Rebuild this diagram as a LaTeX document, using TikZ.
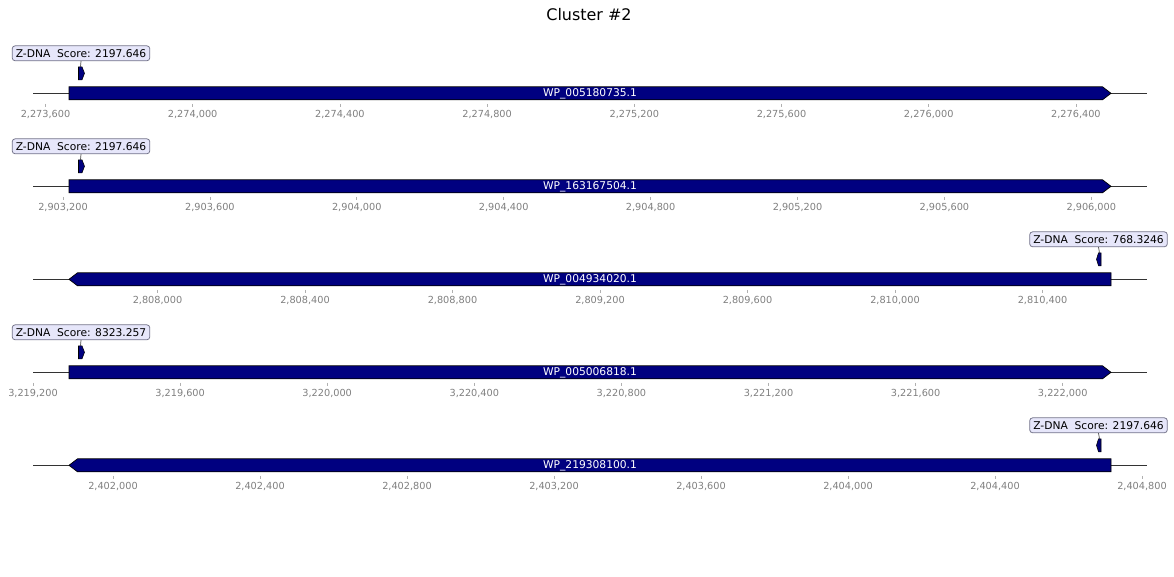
\documentclass[tikz,border=0pt]{standalone}
\usepackage{fontspec}
\setmainfont{DejaVu Sans}
\definecolor{genenavy}{HTML}{000080}
\definecolor{lav}{HTML}{E6E6FA}
\definecolor{boxedge}{HTML}{74748A}
\definecolor{ticklab}{HTML}{808080}
\definecolor{tickmark}{HTML}{B0B0B0}
\tikzset{
  backbone/.style={draw=black!80, line width=1.15pt},
  genebody/.style={draw=black, fill=genenavy, line width=0.5pt},
  genelab/.style={text=white, font=\fontsize{7.7}{8}\selectfont, inner sep=0pt},
  zlab/.style={draw=boxedge, fill=lav, rounded corners=2.2pt, line width=0.55pt, font=\fontsize{7.7}{8}\selectfont, inner xsep=2.6pt, inner ysep=0pt, minimum height=10.8pt},
  featshape/.style={draw=black, fill=genenavy, line width=0.4pt},
  conn/.style={draw=black!70, line width=0.5pt},
  tickmk/.style={draw=tickmark, line width=0.5pt},
  ticktxt/.style={text=ticklab, font=\fontsize{7}{8}\selectfont, inner sep=0pt},
}
\begin{document}
\begin{tikzpicture}[x=0.72pt, y=-0.72pt]
\useasboundingbox[fill=white] (0,-0.8) rectangle (1174,575.2);
\node[font=\fontsize{11.5}{13}\selectfont] (title) at (589,14) {Cluster \#2};

% ---------- Row 1 (forward) ----------
\draw[backbone] (33,92.5) -- (1147,92.5);
\draw[genebody] (69,86) -- (1102.5,86) -- (1111,92.5) -- (1102.5,99) -- (69,99) -- cycle;
\node[genelab] (g1) at (590,92.5) {WP\_005180735.1};
\draw[featshape] (78.5,66) -- (82,66) .. controls (83.5,69) .. (84.5,72.5) .. controls (83.5,76) .. (82,79) -- (78.5,79) -- cycle;
\coordinate (f1) at (80.5,66);
\node[zlab] (z1) at (81,52.5) {Z-DNA~~Score: 2197.646};
\draw[conn] (z1.south) -- (f1);
\foreach \t [count=\i from 0] in {{2,273,600},{2,274,000},{2,274,400},{2,274,800},{2,275,200},{2,275,600},{2,276,000},{2,276,400}} {
  \pgfmathsetmacro{\xx}{45.5+147.2*\i}
  \draw[tickmk] (\xx,103) -- (\xx,106);
  \node[ticktxt] (t1-\i) at (\xx,114) {\t};
}

% ---------- Row 2 (forward) ----------
\draw[backbone] (33,185.5) -- (1147,185.5);
\draw[genebody] (69,179) -- (1102.5,179) -- (1111,185.5) -- (1102.5,192) -- (69,192) -- cycle;
\node[genelab] (g2) at (590,185.5) {WP\_163167504.1};
\draw[featshape] (78.5,159) -- (82,159) .. controls (83.5,162) .. (84.5,165.5) .. controls (83.5,169) .. (82,172) -- (78.5,172) -- cycle;
\coordinate (f2) at (80.5,159);
\node[zlab] (z2) at (81,145.5) {Z-DNA~~Score: 2197.646};
\draw[conn] (z2.south) -- (f2);
\foreach \t [count=\i from 0] in {{2,903,200},{2,903,600},{2,904,000},{2,904,400},{2,904,800},{2,905,200},{2,905,600},{2,906,000}} {
  \pgfmathsetmacro{\xx}{63+146.9*\i}
  \draw[tickmk] (\xx,196) -- (\xx,199);
  \node[ticktxt] (t2-\i) at (\xx,207) {\t};
}

% ---------- Row 3 (reverse) ----------
\draw[backbone] (33,278.5) -- (1147,278.5);
\draw[genebody] (1111,272) -- (77.5,272) -- (69,278.5) -- (77.5,285) -- (1111,285) -- cycle;
\node[genelab] (g3) at (590,278.5) {WP\_004934020.1};
\draw[featshape] (1101,252) -- (1098.5,252) .. controls (1097.3,255) .. (1096.5,258.5) .. controls (1097.3,262) .. (1098.5,265) -- (1101,265) -- cycle;
\coordinate (f3) at (1099.5,252);
\node[zlab] (z3) at (1098.5,238.5) {Z-DNA~~Score: 768.3246};
\draw[conn] (z3.south) -- (f3);
\foreach \t [count=\i from 0] in {{2,808,000},{2,808,400},{2,808,800},{2,809,200},{2,809,600},{2,810,000},{2,810,400}} {
  \pgfmathsetmacro{\xx}{157.5+147.5*\i}
  \draw[tickmk] (\xx,289) -- (\xx,292);
  \node[ticktxt] (t3-\i) at (\xx,300) {\t};
}

% ---------- Row 4 (forward) ----------
\draw[backbone] (33,371.5) -- (1147,371.5);
\draw[genebody] (69,365) -- (1102.5,365) -- (1111,371.5) -- (1102.5,378) -- (69,378) -- cycle;
\node[genelab] (g4) at (590,371.5) {WP\_005006818.1};
\draw[featshape] (78.5,345) -- (82,345) .. controls (83.5,348) .. (84.5,351.5) .. controls (83.5,355) .. (82,358) -- (78.5,358) -- cycle;
\coordinate (f4) at (80.5,345);
\node[zlab] (z4) at (81,331.5) {Z-DNA~~Score: 8323.257};
\draw[conn] (z4.south) -- (f4);
\foreach \t [count=\i from 0] in {{3,219,200},{3,219,600},{3,220,000},{3,220,400},{3,220,800},{3,221,200},{3,221,600},{3,222,000}} {
  \pgfmathsetmacro{\xx}{33+147.1*\i}
  \draw[tickmk] (\xx,382) -- (\xx,385);
  \node[ticktxt] (t4-\i) at (\xx,393) {\t};
}

% ---------- Row 5 (reverse) ----------
\draw[backbone] (33,464.5) -- (1147,464.5);
\draw[genebody] (1111,458) -- (77.5,458) -- (69,464.5) -- (77.5,471) -- (1111,471) -- cycle;
\node[genelab] (g5) at (590,464.5) {WP\_219308100.1};
\draw[featshape] (1101,438) -- (1098.5,438) .. controls (1097.3,441) .. (1096.5,444.5) .. controls (1097.3,448) .. (1098.5,451) -- (1101,451) -- cycle;
\coordinate (f5) at (1099.5,438);
\node[zlab] (z5) at (1098.5,424.5) {Z-DNA~~Score: 2197.646};
\draw[conn] (z5.south) -- (f5);
\foreach \t [count=\i from 0] in {{2,402,000},{2,402,400},{2,402,800},{2,403,200},{2,403,600},{2,404,000},{2,404,400},{2,404,800}} {
  \pgfmathsetmacro{\xx}{113+147.0*\i}
  \draw[tickmk] (\xx,475) -- (\xx,478);
  \node[ticktxt] (t5-\i) at (\xx,486) {\t};
}
\end{tikzpicture}
\end{document}
